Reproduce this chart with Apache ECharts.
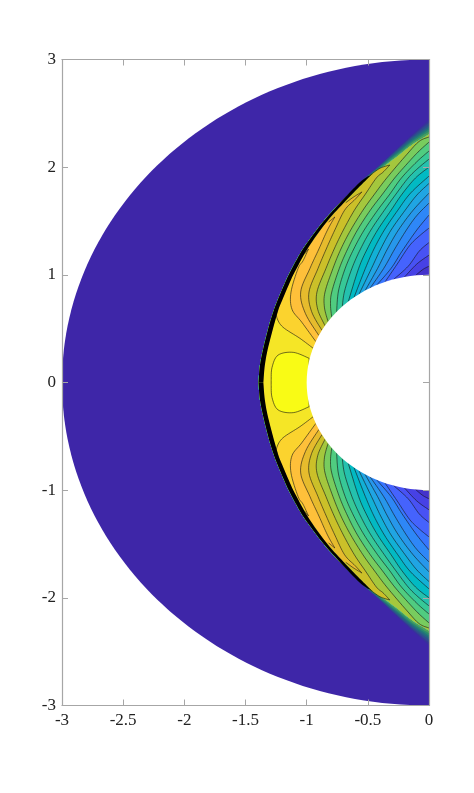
<!DOCTYPE html>
<html>
<head>
<meta charset="utf-8">
<style>html,body{margin:0;padding:0;background:#fff}#main{width:474px;height:793px}</style>
<script src="https://cdn.jsdelivr.net/npm/echarts@6/dist/echarts.min.js"></script>
</head>
<body>
<div id="main"></div>
<script>
//axis ranges
var xMin=-3,xMax=0,xStep=0.5;
var yMin=-3,yMax=3,yStep=1;
var outerRadius=3,bodyRadius=1;

//fill colours, low to high
var freestreamColor="#3e26a8";
var bandColors=["#4433cb","#4741e5","#4852f4","#4563fd","#3875fe","#2e87f7","#2797eb","#20a5e3","#12b1d6","#02bac3","#24c1ae","#37c897","#50cc80","#78cc5e","#a4c73d","#cbc029","#e6bb2d","#fec03a","#fbd32e","#f5e626","#f9fb15"];
var smearColors=["#37339a","#2f4a8f","#275f85","#217579","#2a8a6e","#4a9f5c","#7db24a"];

//contour levels that reach the symmetry line, from there to the body
var line1=[[0,1.08],[-0.05,1.05],[-0.11,0.994]];
var line2=[[0,1.183],[-0.1,1.1],[-0.2,0.98]];
var line3=[[0,1.3],[-0.08,1.22],[-0.17,1.08],[-0.29,0.957]];
var line4=[[0,1.434],[-0.08,1.36],[-0.16,1.27],[-0.26,1.1],[-0.36,0.933]];
var line5=[[0,1.555],[-0.1,1.416],[-0.22,1.22],[-0.31,1.06],[-0.428,0.904]];
var line6=[[0,1.666],[-0.1,1.55],[-0.185,1.416],[-0.28,1.24],[-0.37,1.06],[-0.482,0.876]];
var line7=[[0,1.759],[-0.13,1.6],[-0.25,1.416],[-0.34,1.24],[-0.42,1.06],[-0.523,0.852]];
var line8=[[0,1.849],[-0.1,1.74],[-0.195,1.6],[-0.31,1.416],[-0.395,1.24],[-0.47,1.06],[-0.572,0.82]];
var line9=[[0,1.917],[-0.15,1.76],[-0.255,1.6],[-0.365,1.416],[-0.45,1.24],[-0.52,1.06],[-0.613,0.79]];
var line10=[[0,2],[-0.11,1.9],[-0.22,1.75],[-0.31,1.6],[-0.42,1.416],[-0.505,1.24],[-0.575,1.06],[-0.66,0.751]];
var line11=[[0,2.075],[-0.09,1.99],[-0.17,1.9],[-0.27,1.75],[-0.365,1.6],[-0.475,1.416],[-0.56,1.24],[-0.63,1.06],[-0.69,0.85],[-0.709,0.705]];
var line12=[[0,2.15],[-0.1,2.05],[-0.225,1.9],[-0.32,1.75],[-0.42,1.6],[-0.53,1.416],[-0.615,1.24],[-0.685,1.06],[-0.74,0.85],[-0.755,0.656]];
var line13=[[0,2.233],[-0.09,2.14],[-0.18,2.03],[-0.28,1.9],[-0.38,1.75],[-0.48,1.6],[-0.585,1.416],[-0.665,1.24],[-0.733,1.06],[-0.795,0.84],[-0.805,0.72],[-0.795,0.606]];
var line14=[[0,2.28],[-0.08,2.24],[-0.18,2.12],[-0.345,1.9],[-0.445,1.75],[-0.54,1.6],[-0.64,1.416],[-0.72,1.24],[-0.785,1.06],[-0.85,0.84],[-0.855,0.7],[-0.825,0.565]];

//contour levels that fold back at a tip next to the shock
var line15=[[-0.32,2.02],[-0.376,1.953],[-0.43,1.9],[-0.52,1.75],[-0.61,1.6],[-0.7,1.416],[-0.775,1.24],[-0.842,1.06],[-0.916,0.84],[-0.91,0.68],[-0.85,0.527]];
var line16=[[-0.548,1.77],[-0.605,1.7],[-0.69,1.6],[-0.77,1.416],[-0.84,1.24],[-0.907,1.06],[-0.981,0.84],[-0.96,0.66],[-0.875,0.484]];
var line17=[[-0.77,1.537],[-0.83,1.416],[-0.9,1.24],[-0.973,1.06],[-1.049,0.84],[-1.01,0.64],[-0.9,0.436]];
var line18=[[-0.985,1.24],[-1.03,1.13],[-1.07,1.06],[-1.128,0.84],[-1.12,0.68],[-1.04,0.56],[-0.925,0.38]];
var line19=[[-1.243,0.655],[-1.243,0.6],[-1.194,0.514],[-1.055,0.41],[-0.948,0.319]];
var back15=[[-0.32,2.02],[-0.4,1.99],[-0.482,1.925]];
var back16=[[-0.548,1.77],[-0.62,1.72],[-0.68,1.67]];
var back17=[[-0.77,1.537],[-0.82,1.49]];
var back18=[[-0.985,1.24],[-1.02,1.19]];
var back19=[[-1.243,0.655],[-1.24,0.72]];

//closed level round the stagnation point, upper half
var line20=[[-0.98,0.225],[-1.11,0.28],[-1.234,0.254],[-1.283,0.14],[-1.29,0.02]];

//shock, outer edge. the top part spreads out level by level
var shockEdge0=[[0,2.44],[-0.13,2.31],[-0.26,2.175],[-0.425,2],[-0.565,1.86]];
var shockEdge1=[[0,2.415],[-0.13,2.295],[-0.26,2.165],[-0.425,1.995],[-0.565,1.857]];
var shockEdge2=[[0,2.39],[-0.13,2.28],[-0.26,2.155],[-0.425,1.99],[-0.565,1.855]];
var shockEdge3=[[0,2.37],[-0.13,2.265],[-0.26,2.14],[-0.425,1.985],[-0.565,1.853]];
var shockEdge4=[[0,2.35],[-0.13,2.25],[-0.26,2.13],[-0.425,1.98],[-0.565,1.85]];
var shockEdge5=[[0,2.33],[-0.13,2.235],[-0.26,2.115],[-0.425,1.972],[-0.565,1.847]];
var shockEdge6=[[0,2.305],[-0.13,2.215],[-0.26,2.1],[-0.425,1.96],[-0.565,1.842]];
var shockOuter=[[-0.73,1.665],[-0.875,1.48],[-1.021,1.257],[-1.077,1.15],[-1.128,1.043],[-1.168,0.95],[-1.238,0.765],[-1.278,0.64],[-1.31,0.52],[-1.352,0.33],[-1.382,0.16],[-1.394,0]];
var shockInner=[[-0.46,1.94],[-0.55,1.84],[-0.7,1.665],[-0.845,1.48],[-0.985,1.257],[-1.09,1.043],[-1.13,0.95],[-1.2,0.765],[-1.241,0.64],[-1.314,0.33],[-1.342,0.16],[-1.354,0]];

var symmetryLines=[line1,line2,line3,line4,line5,line6,line7,line8,line9,line10,line11,line12,line13,line14];
var foldedLines=[[line15,back15],[line16,back16],[line17,back17],[line18,back18],[line19,back19]];
var smearEdges=[shockEdge0,shockEdge1,shockEdge2,shockEdge3,shockEdge4,shockEdge5,shockEdge6];

//smooth a read-off polyline for drawing
function spline(p){
    var out=[],n=p.length;
    for(var i=0;i<n-1;i++){
        var a=p[Math.max(i-1,0)],b=p[i],c=p[i+1],d=p[Math.min(i+2,n-1)];
        for(var j=0;j<8;j++){
            var t=j/8,t2=t*t,t3=t2*t,q=[];
            for(var k=0;k<2;k++){
                q.push(0.5*(2*b[k]+(c[k]-a[k])*t+(2*a[k]-5*b[k]+4*c[k]-d[k])*t2+(3*b[k]-a[k]-3*c[k]+d[k])*t3));
            }
            out.push(q);
        }
    }
    out.push(p[n-1]);
    return out;
}
function mirror(p){
    return p.map(function(q){return [q[0],-q[1]];});
}
function both(half){
    return half.concat(mirror(half).reverse());
}
function above(p,y){
    return p.filter(function(q){return q[1]<y;}).reverse();
}
function outerPart(edge){
    return spline(edge.concat(shockOuter)).reverse();
}
function foldedLine(f){
    return spline(f[1].slice().reverse()).concat(spline(f[0]));
}

//one outline per band, low to high
var smearOutlines=smearEdges.map(function(e){return both(outerPart(e));});
var bandOutlines=[both(outerPart(shockEdge6))];
symmetryLines.forEach(function(l){
    bandOutlines.push(both(outerPart(shockEdge6).concat(spline(l))));
});
foldedLines.forEach(function(f){
    var end=f[1][f[1].length-1];
    bandOutlines.push(both(above(shockInner,end[1]).concat(foldedLine(f))));
});
bandOutlines.push(both(spline(line20)));
var fillOutlines=smearOutlines.concat(bandOutlines);
var fillColors=smearColors.concat(bandColors);

var contourPaths=[];
symmetryLines.forEach(function(l){
    contourPaths.push(spline(l));
    contourPaths.push(mirror(spline(l)));
});
foldedLines.forEach(function(f){
    contourPaths.push(foldedLine(f));
    contourPaths.push(mirror(foldedLine(f)));
});
var closedLine=both(spline(line20));
closedLine.push(closedLine[0]);
contourPaths.push(closedLine);

var blackOuter=spline([shockInner[0],[-0.565,1.86]].concat(shockOuter));
var shockCrescent=blackOuter.concat(spline(shockInner).reverse());

function toPixels(api,p){
    return p.map(function(q){return api.coord(q);});
}
function circleSeries(radius,color){
    return {
        type:"custom",coordinateSystem:"cartesian2d",clip:true,silent:true,animation:false,
        data:[[0,0]],
        renderItem:function(params,api){
            var c=api.coord([0,0]),s=api.size([radius,radius]);
            return {type:"ellipse",shape:{cx:c[0],cy:c[1],rx:s[0],ry:s[1]},style:{fill:color}};
        }
    };
}

var chart=echarts.init(document.getElementById("main"),null,{renderer:"canvas"});
var axisLine={show:true,onZero:false,lineStyle:{color:"#a6a6a6",width:1.2}};
var axisTick={show:true,inside:true,length:6,lineStyle:{color:"#a6a6a6",width:1}};
var axisLabel={color:"#222",fontFamily:"Liberation Serif",fontSize:17};
chart.setOption({
    animation:false,
    backgroundColor:"#fff",
    grid:{left:62,right:45,top:59.5,bottom:87.5},
    xAxis:[
        {type:"value",position:"bottom",min:xMin,max:xMax,interval:xStep,z:10,axisLine:axisLine,axisTick:axisTick,splitLine:{show:false},axisLabel:Object.assign({margin:7,showMinLabel:true,showMaxLabel:true},axisLabel)},
        {type:"value",position:"top",min:xMin,max:xMax,interval:xStep,z:10,axisLine:axisLine,axisTick:axisTick,splitLine:{show:false},axisLabel:{show:false}}
    ],
    yAxis:[
        {type:"value",position:"left",min:yMin,max:yMax,interval:yStep,z:10,axisLine:axisLine,axisTick:axisTick,splitLine:{show:false},axisLabel:Object.assign({margin:6,showMinLabel:true,showMaxLabel:true},axisLabel)},
        {type:"value",position:"right",min:yMin,max:yMax,interval:yStep,z:10,axisLine:axisLine,axisTick:axisTick,splitLine:{show:false},axisLabel:{show:false}}
    ],
    series:[
        circleSeries(outerRadius,freestreamColor),
        {
            type:"custom",coordinateSystem:"cartesian2d",clip:true,silent:true,animation:false,
            data:fillOutlines.map(function(b,i){return [i];}),
            renderItem:function(params,api){
                var i=api.value(0);
                return {type:"polygon",shape:{points:toPixels(api,fillOutlines[i])},style:{fill:fillColors[i]}};
            }
        },
        {
            type:"custom",coordinateSystem:"cartesian2d",clip:true,silent:true,animation:false,
            data:contourPaths.map(function(b,i){return [i];}),
            renderItem:function(params,api){
                var i=api.value(0);
                return {type:"polyline",shape:{points:toPixels(api,contourPaths[i])},style:{fill:null,stroke:"rgba(20,20,20,0.75)",lineWidth:0.8}};
            }
        },
        {
            type:"custom",coordinateSystem:"cartesian2d",clip:true,silent:true,animation:false,
            data:[[0]],
            renderItem:function(params,api){
                return {type:"group",children:[
                    {type:"polygon",shape:{points:toPixels(api,shockCrescent)},style:{fill:"#000"}},
                    {type:"polygon",shape:{points:toPixels(api,mirror(shockCrescent))},style:{fill:"#000"}}
                ]};
            }
        },
        circleSeries(bodyRadius,"#fff")
    ]
});
</script>
</body>
</html>
